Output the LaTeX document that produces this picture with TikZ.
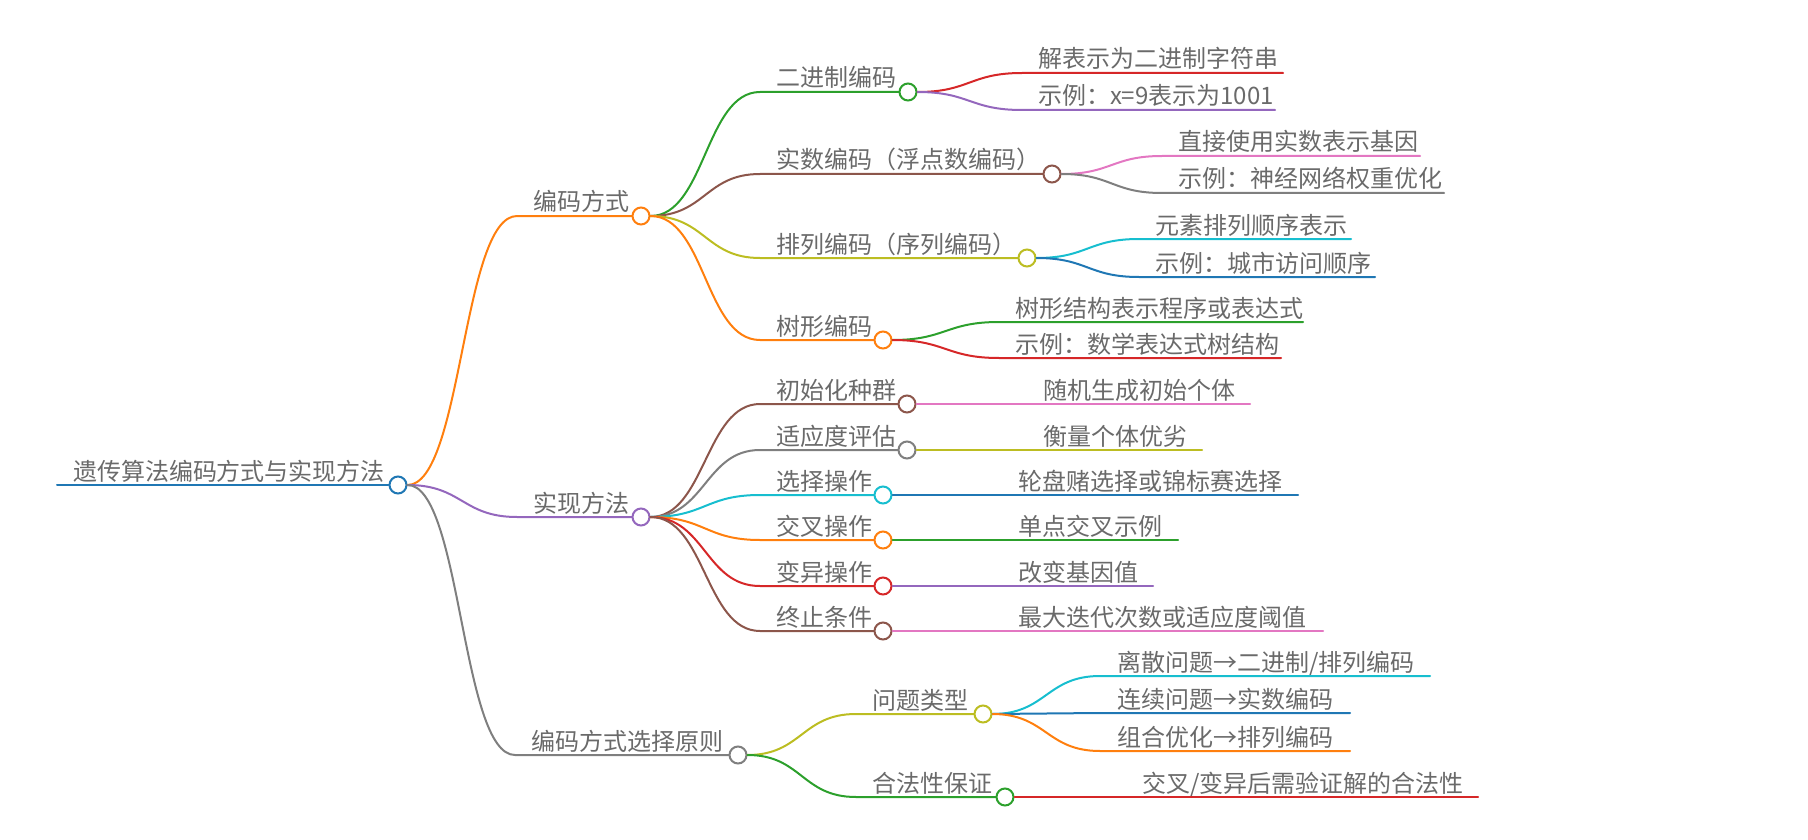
\documentclass[tikz,border=0pt]{standalone}
\usepackage{fontspec}
\newfontfamily\cjk{Noto Sans CJK SC}
\usetikzlibrary{calc}
\definecolor{cBlue}{HTML}{1F77B4}
\definecolor{cOrange}{HTML}{FF7F0E}
\definecolor{cGreen}{HTML}{2CA02C}
\definecolor{cRed}{HTML}{D62728}
\definecolor{cPurple}{HTML}{9467BD}
\definecolor{cBrown}{HTML}{8C564B}
\definecolor{cPink}{HTML}{E377C2}
\definecolor{cGray}{HTML}{7F7F7F}
\definecolor{cOlive}{HTML}{BCBD22}
\definecolor{cCyan}{HTML}{17BECF}
\definecolor{cText}{HTML}{6A6A6A}
\begin{document}
\begin{tikzpicture}[x=1pt,y=-1pt,line width=2pt,font=\cjk\fontsize{24}{28}\selectfont,
    knob/.style={circle,draw=#1,fill=white,minimum size=17pt,inner sep=0pt},
    lbl/.style={anchor=base west,inner sep=0pt,text=cText},
    twig/.style={draw=#1,line cap=round},
    bough/.style={to path={let \p1=(\tikztostart),\p2=(\tikztotarget) in
      .. controls ({(\x1+\x2)/2},\y1) and ({(\x1+\x2)/2},\y2) .. (\tikztotarget)}}]
  \useasboundingbox (0,0) rectangle (1808,840);
  % nodes with a knob: name/knob x/line start x/text x/y/colour/text
  \foreach \n/\cx/\sx/\tx/\yy/\co/\txt in {
      root/398/57/72/485/cBlue/{遗传算法编码方式与实现方法},
      enc/641/517/532/216/cOrange/{编码方式},
      impl/641/517/532/517/cPurple/{实现方法},
      rule/738/515/530/755/cGray/{编码方式选择原则},
      bin/908/760/775/92/cGreen/{二进制编码},
      real/1052/760/775/174/cBrown/{实数编码（浮点数编码）},
      perm/1027/760/775/258/cOlive/{排列编码（序列编码）},
      tree/883/760/775/340/cOrange/{树形编码},
      init/907/760/775/404/cBrown/{初始化种群},
      fit/907/760/775/450/cGray/{适应度评估},
      selo/883/760/775/495/cCyan/{选择操作},
      cross/883/760/775/540/cOrange/{交叉操作},
      mut/883/760/775/586/cRed/{变异操作},
      stop/883/760/775/631/cBrown/{终止条件},
      ptype/983/856/871/714/cOlive/{问题类型},
      legal/1005/856/871/797/cGreen/{合法性保证}}{
    \coordinate (\n-s) at (\sx,\yy);
    \node[knob=\co] (\n) at (\cx,\yy) {};
    \node[lbl] (\n-t) at (\tx,\yy-5) {\txt};
  }
  % leaves: name/line start x/line end x/text x/y/text
  \foreach \n/\sx/\ex/\tx/\yy/\txt in {
      b1/1022/1283/1037/73/{解表示为二进制字符串},
      b2/1022/1275/1037/110/{示例：x=9表示为1001},
      r1/1162/1420/1177/156/{直接使用实数表示基因},
      r2/1162/1444/1177/193/{示例：神经网络权重优化},
      p1/1139/1351/1154/239/{元素排列顺序表示},
      p2/1139/1375/1154/277/{示例：城市访问顺序},
      t1/999/1303/1014/322/{树形结构表示程序或表达式},
      t2/999/1281/1014/358/{示例：数学表达式树结构},
      i1/1027/1250/1042/404/{随机生成初始个体},
      f1/1027/1202/1042/450/{衡量个体优劣},
      s1/1002/1298/1017/495/{轮盘赌选择或锦标赛选择},
      c1/1002/1178/1017/540/{单点交叉示例},
      m1/1002/1153/1017/586/{改变基因值},
      e1/1002/1323/1017/631/{最大迭代次数或适应度阈值},
      q1/1100/1430/1116/676/{离散问题→二进制/排列编码},
      q2/1100/1350/1116/713/{连续问题→实数编码},
      q3/1100/1350/1116/751/{组合优化→排列编码},
      l1/1126/1478/1141/797/{交叉/变异后需验证解的合法性}}{
    \coordinate (\n-s) at (\sx,\yy);
    \coordinate (\n-e) at (\ex,\yy);
    \node[lbl] (\n-t) at (\tx,\yy-5) {\txt};
  }
  \draw[twig=cBlue] (root-s) -- (root.west);
  \foreach \pa/\ch/\co in {root/enc/cOrange,root/impl/cPurple,root/rule/cGray,
      enc/bin/cGreen,enc/real/cBrown,enc/perm/cOlive,enc/tree/cOrange,
      impl/init/cBrown,impl/fit/cGray,impl/selo/cCyan,impl/cross/cOrange,
      impl/mut/cRed,impl/stop/cBrown,rule/ptype/cOlive,rule/legal/cGreen}
    \draw[twig=\co] (\pa.east) to[bough] (\ch-s) -- (\ch.west);
  \foreach \pa/\ch/\co in {bin/b1/cRed,bin/b2/cPurple,real/r1/cPink,real/r2/cGray,
      perm/p1/cCyan,perm/p2/cBlue,tree/t1/cGreen,tree/t2/cRed,
      init/i1/cPink,fit/f1/cOlive,selo/s1/cBlue,cross/c1/cGreen,
      mut/m1/cPurple,stop/e1/cPink,
      ptype/q1/cCyan,ptype/q2/cBlue,ptype/q3/cOrange,legal/l1/cRed}
    \draw[twig=\co] (\pa.east) to[bough] (\ch-s) -- (\ch-e);
\end{tikzpicture}
\end{document}
